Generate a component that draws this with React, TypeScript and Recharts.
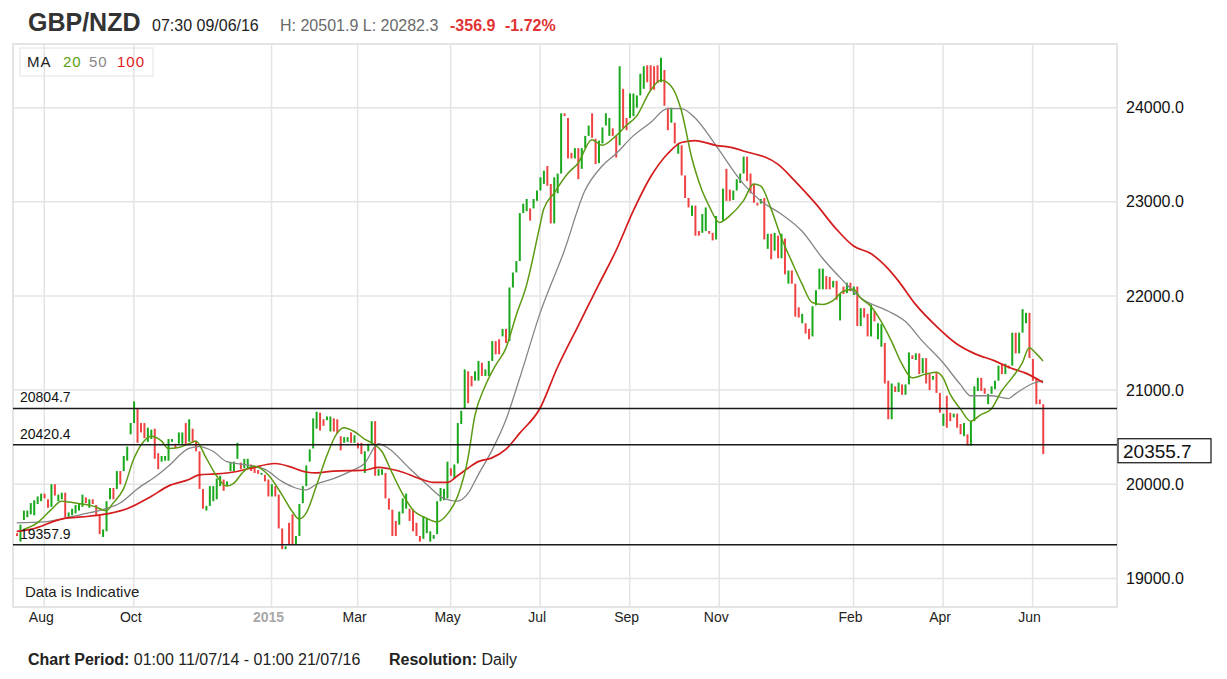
import {
  ComposedChart,
  Bar,
  Line,
  XAxis,
  YAxis,
  CartesianGrid,
  ReferenceLine,
  Cell,
} from "recharts";

// daily bars (high / low / 1 = up bar)
const barHigh = [
  19480, 19570, 19720, 19720, 19800, 19830, 19870, 19900, 19900, 19840,
  20000, 20000, 19890, 19910, 19910, 19700, 19740, 19780, 19800, 19890,
  19860, 19840, 19840, 19780, 19680, 19520, 19820, 19960, 19960, 20140,
  20140, 20300, 20400, 20650, 20880, 20810, 20650, 20650, 20600, 20580,
  20590, 20330, 20300, 20300, 20480, 20480, 20430, 20550, 20550, 20650,
  20690, 20590, 20460, 20350, 19950, 19770, 19980, 19980, 20060, 20090,
  20050, 20030, 20230, 20240, 20440, 20230, 20270, 20270, 20210, 20170,
  20150, 20120, 20100, 20050, 20000, 19980, 19890, 19530, 19340, 19590,
  19680, 19450, 19790, 19980, 20200, 20370, 20700, 20770, 20760, 20690,
  20720, 20720, 20700, 20690, 20510, 20500, 20500, 20550, 20520, 20440,
  20440, 20350, 20430, 20670, 20670, 20160, 20160, 20120, 19850, 19730,
  19610, 19710, 19850, 19900, 19740, 19730, 19590, 19450, 19660, 19640,
  19500, 19460, 19820, 19960, 19950, 20240, 20170, 20210, 20650, 20780,
  21220, 21200, 21150, 21200, 21310, 21290, 21220, 21310, 21520, 21520,
  21540, 21650, 21650, 22090, 22250, 22370, 22880, 22980, 23030, 22930,
  23030, 23120, 23260, 23330, 23380, 23190, 23260, 23300, 23940, 23940,
  23890, 23520, 23570, 23570, 23570, 23700, 23810, 23940, 23670, 23650,
  23790, 23940, 23890, 23780, 23700, 24440, 24200, 23890, 24150, 24150,
  24130, 24360, 24440, 24450, 24450, 24440, 24450, 24530, 24400, 24000,
  24000, 23840, 23620, 23600, 23280, 23040, 22960, 22960, 22690, 22870,
  22940, 22690, 22670, 22850, null, 23140, 23350, 23130, 23120, 23240,
  23300, 23480, 23480, 23300, 23190, 22990, 23030, 23040, 22660, 22660,
  22670, 22640, 22660, 22610, 22270, 22270, 22130, 21880, 21810, 21710,
  21650, 21890, 22060, 22290, 22290, 22210, 22200, 22160, 22160, 22020,
  22100, 22140, 22140, 22100, 22100, 21870, 21870, 21810, 21910, 21840,
  21710, 21700, 21500, 21100, 21070, 21040, 21080, 21060, 21060, 21400,
  21370, 21390, 21390, 21340, 21340, 21170, 21150, 21180, 20970, 20750,
  20940, 20760, 20750, 20750, 20640, 20650, 20530, 20670, 21040, 21130,
  21130, 21020, 20960, 21040, 21100, 21260, 21280, 21280, 21260, 21610,
  21610, 21610, 21860, 21820, 21820, 21330, 21130, 20900, 20850,
];

const barLow = [
  19450, 19390, 19620, 19650, 19680, 19670, 19790, 19820, 19850, 19750,
  19760, 19880, 19820, 19840, 19650, 19640, 19670, 19690, 19720, 19760,
  19800, 19750, 19790, 19670, 19470, 19440, 19500, 19840, 19840, 19950,
  20000, 20140, 20250, 20530, 20650, 20440, 20550, 20490, 20450, 20480,
  20270, 20160, 20240, 20250, 20250, 20450, 20380, 20430, 20430, 20420,
  20450, 20440, 20350, 19950, 19740, 19720, 19770, 19820, 19840, 19980,
  19930, 19980, 20140, 20140, 20270, 20160, 20170, 20170, 20140, 20120,
  20110, 20100, 20030, 19870, 19870, 19870, 19530, 19310, 19310, 19360,
  19360, 19360, 19450, 19800, 19980, 20240, 20380, 20590, 20570, 20620,
  20680, 20560, 20560, 20540, 20360, 20440, 20450, 20440, 20440, 20380,
  20320, 20120, 20350, 20430, 20090, 20090, 20100, 19850, 19730, 19450,
  19450, 19570, 19690, 19740, 19610, 19500, 19450, 19390, 19420, 19480,
  19390, 19420, 19470, 19820, 19830, 19850, 20090, 20060, 20220, 20640,
  20800, 20860, 21040, 21100, 21100, 21150, 21150, 21150, 21310, 21380,
  21380, 21570, 21500, 21520, 22090, 22250, 22370, 22880, 22900, 22800,
  22930, 23010, 23120, 23190, 23170, 22770, 22770, 23090, 23300, 23910,
  23460, 23460, 23460, 23240, 23350, 23570, 23700, 23680, 23400, 23410,
  23620, 23810, 23700, 23700, 23470, 23600, 23780, 23760, 23890, 23910,
  24000, 24130, 24200, 24270, 24180, 24190, 24260, 24270, 24020, 23760,
  23840, 23620, 23510, 23280, 23040, 22940, 22850, 22640, 22640, 22670,
  22690, 22660, 22590, 22600, null, 22800, 23010, 23010, 23020, 23120,
  23200, 23300, 23220, 23090, 22990, 22960, 22980, 22600, 22500, 22390,
  22480, 22400, 22400, 22230, 22130, 22130, 21780, 21770, 21710, 21600,
  21540, 21570, 21900, 22070, 22070, 22070, 22070, 22090, 21960, 21740,
  22020, 22030, 22050, 22010, 21680, 21680, 21770, 21570, 21570, 21730,
  21540, 21460, 21070, 20690, 20690, 20980, 20980, 20950, 20950, 21060,
  21330, 21320, 21170, 21180, 21070, 21000, 21110, 20970, 20760, 20620,
  20600, 20670, 20710, 20600, 20530, 20510, 20410, 20410, 20670, 20990,
  20990, 20960, 20850, 20960, 21010, 21100, 21170, 21170, 21230, 21260,
  21390, 21390, 21610, 21710, 21340, 21100, 20850, 20850, 20320,
];

const barUp = [
  0, 1, 1, 1, 1, 1, 1, 1, 0, 0,
  1, 0, 1, 1, 0, 1, 1, 1, 1, 1,
  0, 1, 0, 0, 0, 1, 1, 1, 0, 1,
  0, 1, 1, 1, 1, 0, 0, 0, 1, 1,
  0, 0, 1, 1, 1, 1, 0, 1, 1, 0,
  1, 0, 0, 0, 0, 1, 1, 1, 1, 1,
  0, 1, 1, 1, 1, 0, 1, 1, 0, 0,
  0, 1, 0, 0, 1, 0, 0, 0, 1, 0,
  0, 1, 1, 1, 1, 1, 1, 1, 0, 0,
  1, 1, 0, 0, 0, 1, 1, 0, 1, 0,
  0, 1, 1, 1, 0, 1, 1, 0, 0, 0,
  0, 1, 1, 1, 0, 0, 0, 0, 1, 1,
  1, 1, 1, 1, 1, 1, 0, 1, 1, 1,
  1, 0, 0, 1, 1, 0, 1, 1, 1, 0,
  0, 1, 0, 1, 1, 1, 1, 1, 1, 0,
  1, 1, 1, 1, 0, 0, 1, 1, 1, 0,
  0, 0, 1, 0, 1, 1, 1, 0, 0, 1,
  1, 1, 1, 0, 0, 1, 0, 0, 1, 1,
  1, 1, 1, 0, 0, 0, 0, 1, 0, 0,
  1, 0, 1, 0, 0, 0, 1, 0, 0, 1,
  1, 0, 0, 1, 0, 1, 0, 0, 1, 1,
  1, 1, 0, 0, 0, 0, 1, 0, 1, 0,
  1, 0, 1, 0, 1, 0, 0, 0, 1, 0,
  0, 1, 1, 1, 1, 0, 0, 1, 0, 1,
  0, 1, 0, 1, 0, 1, 0, 0, 1, 0,
  1, 1, 0, 0, 1, 0, 1, 0, 1, 1,
  0, 1, 0, 1, 0, 0, 1, 0, 0, 1,
  0, 0, 1, 0, 0, 1, 0, 1, 1, 1,
  0, 0, 1, 1, 1, 1, 0, 1, 0, 1,
  0, 1, 1, 1, 0, 0, 0, 0, 0,
];

// moving averages, sampled along the curves: [bar index, value]
const ma20Pts = [
  [2, 19520], [6, 19590], [10, 19730], [13, 19820], [17, 19800], [22, 19770],
  [26, 19720], [28, 19800], [31, 19950], [34, 20270], [37, 20460], [39, 20510],
  [42, 20460], [44, 20380], [47, 20390], [50, 20430], [52, 20460], [55, 20280],
  [58, 20090], [61, 19980], [63, 20010], [66, 20140], [69, 20190], [73, 20100],
  [77, 19890], [80, 19710], [82, 19630], [84, 19690], [87, 19980], [90, 20300],
  [93, 20540], [95, 20600], [98, 20560], [101, 20480], [103, 20440], [106, 20350],
  [109, 20120], [112, 19900], [115, 19730], [119, 19640], [122, 19600], [125, 19680],
  [128, 19870], [131, 20270], [133, 20720], [136, 21040], [139, 21260], [142, 21440],
  [145, 21790], [148, 22110], [152, 22760], [153, 22920], [156, 23090], [160, 23300],
  [163, 23410], [167, 23660], [170, 23600], [174, 23700], [177, 23810], [180, 23910],
  [184, 24180], [187, 24290], [190, 24230], [193, 23970], [196, 23470], [199, 23120],
  [201, 22960], [204, 22780], [207, 22850], [211, 23010], [214, 23190], [216, 23170],
  [219, 22930], [222, 22620], [225, 22370], [228, 22130], [231, 21930], [234, 21910],
  [237, 21950], [240, 22050], [243, 22070], [245, 21980], [248, 21890], [251, 21730],
  [254, 21520], [257, 21280], [260, 21130], [264, 21170], [267, 21190], [269, 21130],
  [271, 20960], [274, 20800], [277, 20670], [280, 20740], [283, 20800], [286, 20990],
  [289, 21130], [292, 21290], [294, 21450], [296, 21390], [298, 21310],
];

const ma50Pts = [
  [0, 19590], [8, 19600], [13, 19630], [19, 19680], [25, 19730], [30, 19800],
  [35, 19950], [41, 20100], [44, 20190], [50, 20380], [53, 20400], [57, 20350],
  [61, 20240], [66, 20210], [72, 20160], [77, 20030], [81, 19960], [84, 19940],
  [87, 20000], [92, 20060], [97, 20140], [101, 20220], [105, 20430], [108, 20380],
  [114, 20170], [119, 20000], [124, 19850], [128, 19820], [131, 19900], [134, 20100],
  [138, 20360], [142, 20680], [146, 21120], [152, 21820], [159, 22480], [165, 23120],
  [170, 23380], [174, 23510], [179, 23700], [184, 23840], [189, 23990], [193, 23990],
  [197, 23890], [203, 23600], [211, 23190], [216, 23010], [222, 22870], [228, 22690],
  [234, 22400], [240, 22160], [245, 21980], [253, 21840], [258, 21730], [263, 21520],
  [269, 21290], [274, 21060], [277, 20940], [283, 20940], [288, 20910], [290, 20960],
  [295, 21070], [298, 21100],
];

const ma100Pts = [
  [0, 19500], [4, 19520], [13, 19630], [21, 19660], [27, 19690], [32, 19740],
  [39, 19870], [44, 19980], [50, 20050], [53, 20100], [58, 20110], [63, 20130],
  [68, 20170], [75, 20220], [79, 20190], [84, 20130], [87, 20120], [92, 20140],
  [101, 20150], [105, 20180], [111, 20140], [117, 20060], [121, 20020], [125, 20020],
  [128, 20090], [131, 20170], [134, 20240], [138, 20280], [142, 20370], [146, 20540],
  [152, 20810], [157, 21240], [163, 21680], [169, 22120], [174, 22480], [179, 22900],
  [184, 23260], [189, 23510], [193, 23630], [197, 23650], [203, 23600], [207, 23580],
  [211, 23540], [221, 23400], [226, 23220], [232, 22980], [238, 22710], [243, 22530],
  [248, 22450], [253, 22290], [256, 22160], [261, 21910], [267, 21680], [273, 21490],
  [278, 21390], [284, 21310], [289, 21230], [293, 21180], [298, 21080],
];

const monthTicks = [8, 34, 74, 99, 126, 152, 178, 204, 243, 269, 295];
const monthLabels = ["Aug", "Oct", "2015", "Mar", "May", "Jul", "Sep", "Nov", "Feb", "Apr", "Jun"];
const priceTicks = [19000, 20000, 21000, 22000, 23000, 24000];
const levels = [20804.7, 20420.4, 19357.9];
const lastPrice = 20355.7;

const SLOTS = 320;
const UP = "#1aa81d";
const DOWN = "#ef4343";
const FONT = '"Liberation Sans", Arial, Helvetica, sans-serif';

const m20 = new Map(ma20Pts.map(([i, v]) => [i, v]));
const m50 = new Map(ma50Pts.map(([i, v]) => [i, v]));
const m100 = new Map(ma100Pts.map(([i, v]) => [i, v]));

const rows = Array.from({ length: SLOTS }, (_, i) => ({
  i,
  range: barHigh[i] != null ? [barLow[i], barHigh[i]] : null,
  up: barUp[i] === 1,
  ma20: m20.get(i) ?? null,
  ma50: m50.get(i) ?? null,
  ma100: m100.get(i) ?? null,
}));

function MonthTick(props: any) {
  const { x, y, payload } = props;
  const label = monthLabels[monthTicks.indexOf(payload.value)];
  const isYear = label === "2015";
  return (
    <text
      x={x - 3}
      y={y}
      dy={15}
      textAnchor="middle"
      fontSize={14}
      fontFamily={FONT}
      fill={isYear ? "#a8a8a8" : "#222"}
      fontWeight={isYear ? 700 : 400}
    >
      {label}
    </text>
  );
}

function levelLabel(text: string) {
  return (p: any) => {
    const vb = p.viewBox || {};
    return (
      <text x={(vb.x ?? 15) + 7} y={(vb.y ?? 0) - 6} fontSize={14} fontFamily={FONT} fill="#111">
        {text}
      </text>
    );
  };
}

function priceBox(p: any) {
  const vb = p.viewBox || {};
  const x = (vb.x ?? 0) + (vb.width ?? 0) + 1;
  const y = vb.y ?? 0;
  return (
    <g>
      <rect x={x} y={y - 12} width={93} height={24} fill="#fff" stroke="#111" strokeWidth={1.2} />
      <text x={x + 5} y={y + 7} fontSize={19} fontFamily={FONT} fill="#111">
        {lastPrice.toFixed(1)}
      </text>
    </g>
  );
}

export default function App() {
  return (
    <div style={{ position: "absolute", left: 0, top: 0, width: 1227, height: 679, background: "#fff", fontFamily: FONT }}>
      <svg width={1227} height={679} style={{ position: "absolute", left: 0, top: 0 }}>
        <rect x={13} y={44} width={1104} height={563} fill="none" stroke="#dcdcdc" strokeWidth={1.5} />
      </svg>
      <div style={{ position: "absolute", left: 0, top: 0 }}>
        <ComposedChart
          width={1227}
          height={640}
          data={rows}
          margin={{ top: 44, right: 10, bottom: 3, left: 13 }}
          barCategoryGap={0}
        >
          <CartesianGrid stroke="#e4e4e4" strokeWidth={1.5} />
          <XAxis
            dataKey="i"
            type="category"
            ticks={monthTicks}
            interval={0}
            tick={<MonthTick />}
            axisLine={false}
            tickLine={false}
            tickSize={0}
            tickMargin={0}
            height={30}
            padding={{ left: 2, right: 0 }}
          />
          <YAxis
            orientation="right"
            width={100}
            domain={[18696, 24676]}
            allowDataOverflow
            ticks={priceTicks}
            tickFormatter={(v: number) => v.toFixed(1)}
            axisLine={false}
            tickLine={false}
            tickSize={0}
            tickMargin={9}
            tick={{ fill: "#111", fontSize: 16, fontFamily: FONT }}
          />
          <Bar dataKey="range" barSize={2} isAnimationActive={false}>
            {rows.map((r) => (
              <Cell key={r.i} fill={r.up ? UP : DOWN} />
            ))}
          </Bar>
          <Line dataKey="ma50" type="monotone" stroke="#858585" strokeWidth={1.3} dot={false} connectNulls isAnimationActive={false} />
          <Line dataKey="ma100" type="monotone" stroke="#d41c1c" strokeWidth={1.7} dot={false} connectNulls isAnimationActive={false} />
          <Line dataKey="ma20" type="monotone" stroke="#5b9a12" strokeWidth={1.5} dot={false} connectNulls isAnimationActive={false} />
          {levels.map((lv) => (
            <ReferenceLine key={lv} y={lv} stroke="#1a1a1a" strokeWidth={1.5} label={levelLabel(lv.toFixed(1))} />
          ))}
          <ReferenceLine y={lastPrice} stroke="none" label={priceBox} />
        </ComposedChart>
      </div>
      <svg width={1227} height={679} style={{ position: "absolute", left: 0, top: 0, pointerEvents: "none" }} fontFamily={FONT}>
        <text x={28} y={31} fontSize={25} fontWeight={700} fill="#333">GBP/NZD</text>
        <text x={152} y={31} fontSize={16} fill="#222">07:30 09/06/16</text>
        <text x={280} y={31} fontSize={16} fill="#6a6a6a">H: 20501.9 L: 20282.3</text>
        <text x={450} y={31} fontSize={16} fontWeight={700} fill="#e03333">-356.9</text>
        <text x={505} y={31} fontSize={16} fontWeight={700} fill="#e03333">-1.72%</text>

        <rect x={20} y={48} width={133} height={28} fill="none" stroke="#e2e2e2" strokeWidth={1} />
        <text x={27} y={67} fontSize={15} letterSpacing={1} fill="#222">MA</text>
        <text x={63} y={67} fontSize={15} letterSpacing={1} fill="#5a9e0e">20</text>
        <text x={89} y={67} fontSize={15} letterSpacing={1} fill="#888">50</text>
        <text x={117} y={67} fontSize={15} letterSpacing={1} fill="#dd1a1a">100</text>

        <text x={25} y={597} fontSize={15} fill="#222">Data is Indicative</text>

        <text x={28} y={665} fontSize={16} fill="#222">
          <tspan fontWeight={700}>Chart Period:</tspan>
          <tspan> 01:00 11/07/14 - 01:00 21/07/16</tspan>
        </text>
        <text x={389} y={665} fontSize={16} fill="#222">
          <tspan fontWeight={700}>Resolution:</tspan>
          <tspan> Daily</tspan>
        </text>
      </svg>
    </div>
  );
}
